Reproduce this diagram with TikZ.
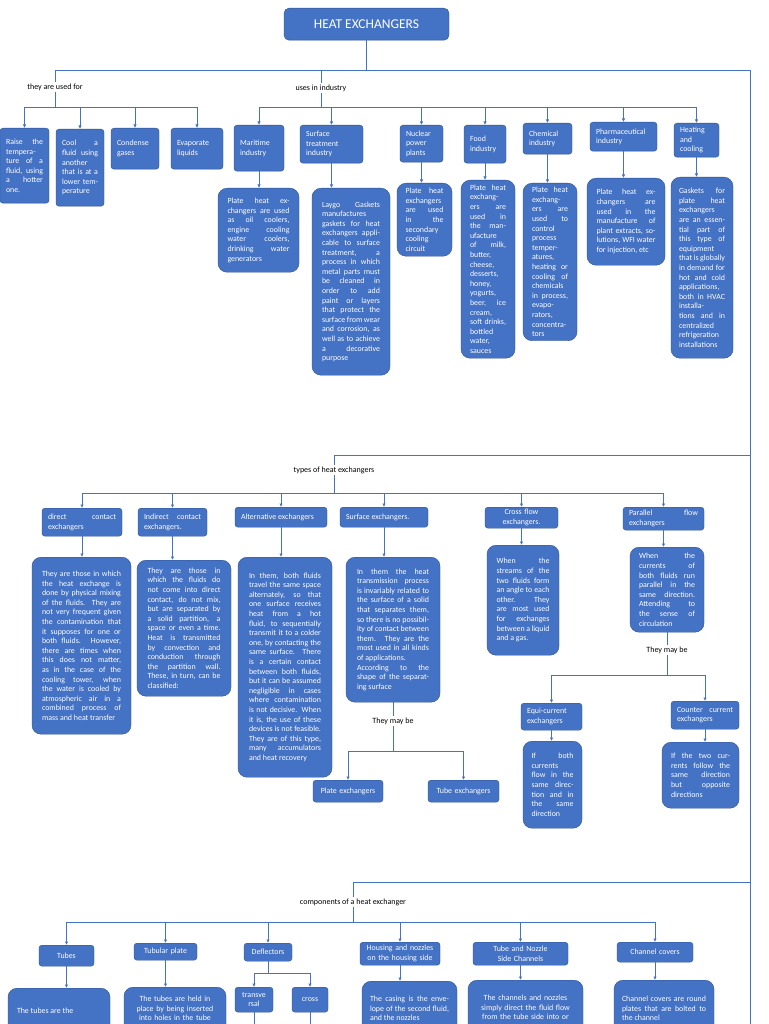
\documentclass[tikz,border=0pt]{standalone}
\usepackage{fontspec}
\setmainfont{Carlito}
\usetikzlibrary{arrows.meta}
\definecolor{hxblue}{HTML}{4472C4}
\definecolor{hxedge}{HTML}{2F528F}
\newcommand{\boxfont}{\fontsize{7.9}{9.6}\selectfont}
\newcommand{\hdfont}{\boxfont\hyphenpenalty=10000\relax}
\tolerance=9999
\emergencystretch=2em
\hbadness=10000
\hfuzz=4pt

\begin{document}
\begin{tikzpicture}[x=1pt,y=-1pt,
  >={Latex[length=3.5pt,width=3.5pt]},
  line/.style={draw=hxblue,line width=0.8pt},
  arr/.style={line,->},
  title/.style={draw=hxedge,fill=hxblue,text=white,rounded corners=5pt,anchor=north,
    minimum width=165pt,minimum height=32pt,font=\fontsize{13.5}{16}\selectfont},
  hd/.style={draw=hxedge,fill=hxblue,text=white,rounded corners=3pt,anchor=north,
    inner xsep=6pt,inner ysep=2pt,align=justify,font=\hdfont},
  ds/.style={hd,rounded corners=9pt,inner xsep=8pt,inner ysep=4pt,font=\boxfont},
  dtext/.style={text=white,anchor=north,inner sep=0pt,align=justify,font=\boxfont},
  lbl/.style={text=black,inner sep=1.5pt,font=\fontsize{8}{9.6}\selectfont}]

\fill[white] (0,0) rectangle (768,1024);
\useasboundingbox (0,0) rectangle (768,1024);

\node[title] (title) at (366.5,8) {HEAT EXCHANGERS};

\coordinate (busA) at (55,70);
\coordinate (busAR) at (750,70);
\coordinate (busB) at (0,107);
\coordinate (typesR) at (750,455);
\coordinate (busE) at (0,493);
\coordinate (busF) at (0,751);
\coordinate (busG) at (0,675);
\coordinate (compR) at (750,882);
\coordinate (busH) at (0,922);
\coordinate (busI) at (0,973);
\coordinate (bottom) at (0,1024);
\coordinate (trunkB) at (750,1024);

\node[lbl] (usedfor) at (55,87) {they are used for};
\node[lbl] (usesind) at (321,88) {uses in industry};
\node[lbl] (typeslbl) at (334,470) {types of heat exchangers};
\node[lbl] (maybe1) at (393,721) {They may be};
\node[lbl] (maybe2) at (667,650) {They may be};
\node[lbl] (complbl) at (353,902) {components of a heat exchanger};

% what they are used for
\node[hd,font=\boxfont,text width=37pt,minimum height=75pt] (raise) at (24.5,128) {Raise the temperature of a fluid, using a hotter one.};
\node[hd,font=\boxfont,text width=36pt,minimum height=77pt] (cool) at (80,129) {Cool a fluid using another that is at a lower temperature};
\node[hd,text width=36pt,minimum height=41pt] (condense) at (135,128) {Condense gases};
\node[hd,text width=40pt,minimum height=41pt] (evap) at (197,128) {Evaporate liquids};

% uses in industry
\node[hd,text width=38pt,minimum height=46pt] (maritime) at (259,125) {Maritime industry};
\node[hd,text width=51pt,minimum height=38pt] (surftreat) at (331.5,125) {Surface treatment industry};
\node[hd,text width=31pt,minimum height=37pt] (nuclear) at (421.5,125) {Nuclear power plants};
\node[hd,text width=30pt,minimum height=38pt] (food) at (485,125) {Food industry};
\node[hd,text width=37pt,minimum height=31pt] (chemical) at (547.5,123) {Chemical industry};
\node[hd,text width=55pt,minimum height=29pt] (pharma) at (623.5,122) {Pharmaceutical industry};
\node[hd,text width=33pt,minimum height=34pt] (heating) at (696.5,123) {Heating and cooling};

\node[ds,text width=62pt,minimum width=81pt,minimum height=84pt] (maritimeD) at (258.5,188) {Plate heat exchangers are used as oil coolers, engine cooling water coolers, drinking water generators};
\node[ds,text width=58pt,minimum width=78pt,minimum height=187pt] (surftreatD) at (351,188) {Laygo Gaskets manufactures gaskets for heat exchangers applicable to surface treatment, a process in which metal parts must be cleaned in order to add paint or layers that protect the surface from wear and corrosion, as well as to achieve a decorative purpose};
\node[ds,text width=38pt,minimum width=55pt,minimum height=73pt] (nuclearD) at (424.5,183) {Plate heat exchangers are used in the secondary cooling circuit};
\node[ds,text width=36pt,minimum width=54pt,minimum height=178pt] (foodD) at (488,180) {Plate heat exchangers are used in the manufacture of milk, butter, cheese, desserts, honey, yogurts, beer, ice cream, soft drinks, bottled water, sauces};
\node[ds,text width=36pt,minimum width=54pt,minimum height=157pt] (chemicalD) at (550,183) {Plate heat exchangers are used to control process temperatures, heating or cooling of chemicals in process, evaporators, concentrators};
\node[ds,text width=59pt,minimum width=78pt,minimum height=87pt] (pharmaD) at (626,178) {Plate heat exchangers are used in the manufacture of plant extracts, solutions, WFI water for injection, etc};
\node[ds,text width=46pt,minimum width=62pt,minimum height=181pt] (heatingD) at (702,177) {Gaskets for plate heat exchangers are an essential part of this type of equipment that is globally in demand for hot and cold applications, both in HVAC installations and in centralized refrigeration installations};

% types of heat exchangers
\node[hd,text width=68pt,minimum height=28pt] (direct) at (82,508) {direct contact exchangers};
\node[hd,text width=57pt,minimum height=28pt] (indirect) at (172.5,508) {Indirect contact exchangers.};
\node[hd,text width=80pt,minimum height=20pt] (altern) at (281,507) {Alternative exchangers};
\node[hd,text width=76pt,minimum height=20pt] (surfx) at (384,507) {Surface exchangers.};
\node[hd,text width=61pt,minimum height=21pt,align=center] (crossx) at (521.5,507) {Cross flow exchangers.};
\node[hd,text width=69pt,minimum height=23pt] (parx) at (663.5,507) {Parallel flow exchangers};

\node[ds,text width=79pt,minimum width=99pt,minimum height=177pt] (directD) at (81.5,557) {They are those in which the heat exchange is done by physical mixing of the fluids. They are not very frequent given the contamination that it supposes for one or both fluids. However, there are times when this does not matter, as in the case of the cooling tower, when the water is cooled by atmospheric air in a combined process of mass and heat transfer};
\node[ds,text width=73pt,minimum width=94pt,minimum height=136pt] (indirectD) at (184,560) {They are those in which the fluids do not come into direct contact, do not mix, but are separated by a solid partition, a space or even a time. Heat is transmitted by convection and conduction through the partition wall. These, in turn, can be classified:};
\node[ds,text width=72pt,minimum width=94pt,minimum height=220pt] (alternD) at (285,557) {In them, both fluids travel the same space alternately, so that one surface receives heat from a hot fluid, to sequentially transmit it to a colder one, by contacting the same surface. There is a certain contact between both fluids, but it can be assumed negligible in cases where contamination is not decisive. When it is, the use of these devices is not feasible. They are of this type, many accumulators and heat recovery};
\node[ds,text width=72pt,minimum width=94pt,minimum height=145pt] (surfxD) at (393,557) {In them the heat transmission process is invariably related to the surface of a solid that separates them, so there is no possibility of contact between them. They are the most used in all kinds of applications.\\ According to the shape of the separating surface};
\node[ds,text width=53pt,minimum width=72pt,minimum height=110pt] (crossxD) at (523,545) {When the streams of the two fluids form an angle to each other. They are most used for exchanges between a liquid and a gas.};
\node[ds,text width=56pt,minimum width=74pt,minimum height=85pt] (parxD) at (667,547) {When the currents of both fluids run parallel in the same direction. Attending to the sense of circulation};

\node[hd,text width=58pt,minimum height=22pt,align=center] (plate) at (348,780) {Plate exchangers};
\node[hd,text width=59pt,minimum height=22pt,align=center] (tube) at (463.5,780) {Tube exchangers};
\node[hd,text width=49pt,minimum height=27pt] (equi) at (551.5,703) {Equi-current exchangers};
\node[hd,text width=56pt,minimum height=28pt] (counter) at (705,701) {Counter current exchangers};
\node[ds,text width=42pt,minimum width=59pt,minimum height=87pt] (equiD) at (552.5,741) {If both currents flow in the same direction and in the same direction};
\node[ds,text width=59pt,minimum width=77pt,minimum height=66pt] (counterD) at (700.5,742) {If the two currents follow the same direction but opposite directions};

% components of a heat exchanger
\node[hd,text width=43pt,minimum height=21pt,align=center] (tubes) at (66.5,945) {Tubes};
\node[hd,text width=51pt,minimum height=17pt,align=center] (tubplate) at (165.5,943) {Tubular plate};
\node[hd,text width=36pt,minimum height=18pt,align=center] (deflectors) at (268,943) {Deflectors};
\node[hd,text width=68pt,minimum height=23pt,align=center] (housing) at (400,942) {Housing and nozzles on the housing side};
\node[hd,text width=83pt,minimum height=23pt,align=center] (channels) at (520.5,942) {Tube and Nozzle Side Channels};
\node[hd,text width=64pt,minimum height=20pt,align=center] (covers) at (655,942) {Channel covers};
\node[hd,inner xsep=4pt,text width=30pt,minimum height=25pt,align=center] (transv) at (254,987) {transve\discretionary{}{}{}rsal};
\node[hd,inner xsep=4pt,text width=28pt,minimum height=25pt,align=center] (crossc) at (310,987) {cross};

\node[ds,minimum width=102pt,minimum height=80pt] (tubesD) at (59,988) {};
\node[ds,minimum width=102pt,minimum height=80pt] (tubplateD) at (175,987) {};
\node[ds,minimum width=95pt,minimum height=80pt] (housingD) at (409.5,981) {};
\node[ds,minimum width=115pt,minimum height=80pt] (channelsD) at (525.5,980) {};
\node[ds,minimum width=100pt,minimum height=80pt] (coversD) at (664,980) {};
\node[dtext,text width=84pt] (tubesT) at (59,1008) {The tubes are the};
\node[dtext,text width=86pt,align=center] (tubplateT) at (175,996) {The tubes are held in place by being inserted into holes in the tube};
\node[dtext,text width=79pt] (housingT) at (409.5,996) {The casing is the envelope of the second fluid, and the nozzles};
\node[dtext,text width=99pt,align=center] (channelsT) at (525.5,995) {The channels and nozzles simply direct the fluid flow from the tube side into or};
\node[dtext,text width=84pt] (coversT) at (664,996) {Channel covers are round plates that are bolted to the channel};

% connectors
\draw[line] (title) -- (title |- busA);
\draw[line] (busA) -- (busAR) -- (trunkB);
\draw[line] (busA) -- (usedfor);
\draw[line] (usedfor) -- (usedfor |- busB);
\draw[line] (raise |- busB) -- (evap |- busB);
\foreach \n in {raise,cool,condense,evap}
  \draw[arr] (\n |- busB) -- (\n);

\draw[line] (usesind |- busA) -- (usesind);
\draw[line] (usesind) -- (usesind |- busB);
\draw[line] (maritime |- busB) -- (heating |- busB);
\foreach \n in {maritime,surftreat,nuclear,food,chemical,pharma,heating}{
  \draw[arr] (\n |- busB) -- (\n);
  \draw[arr] (\n) -- (\n |- \n D.north);
}

\draw[line] (typesR) -- (typeslbl |- typesR) -- (typeslbl);
\draw[line] (typeslbl) -- (typeslbl |- busE);
\draw[line] (direct |- busE) -- (parx |- busE);
\foreach \n in {direct,indirect,altern,surfx,crossx,parx}{
  \draw[arr] (\n |- busE) -- (\n);
  \draw[arr] (\n) -- (\n |- \n D.north);
}

\draw[line] (surfxD) -- (maybe1);
\draw[line] (maybe1) -- (maybe1 |- busF);
\draw[line] (plate |- busF) -- (tube |- busF);
\draw[arr] (plate |- busF) -- (plate);
\draw[arr] (tube |- busF) -- (tube);

\draw[line] (parxD) -- (maybe2);
\draw[line] (maybe2) -- (maybe2 |- busG);
\draw[line] (equi |- busG) -- (counter |- busG);
\draw[arr] (equi |- busG) -- (equi);
\draw[arr] (counter |- busG) -- (counter);
\draw[arr] (equi) -- (equi |- equiD.north);
\draw[arr] (counter) -- (counter |- counterD.north);

\draw[line] (compR) -- (complbl |- compR) -- (complbl);
\draw[line] (complbl) -- (complbl |- busH);
\draw[line] (tubes |- busH) -- (covers |- busH);
\foreach \n in {tubes,tubplate,deflectors,housing,channels,covers}
  \draw[arr] (\n |- busH) -- (\n);
\foreach \n in {tubes,tubplate,housing,channels,covers}
  \draw[arr] (\n) -- (\n |- \n D.north);
\draw[line] (deflectors) -- (deflectors |- busI);
\draw[line] (transv |- busI) -- (crossc |- busI);
\draw[arr] (transv |- busI) -- (transv);
\draw[arr] (crossc |- busI) -- (crossc);
\draw[line] (transv) -- (transv |- bottom);
\draw[line] (crossc) -- (crossc |- bottom);
\end{tikzpicture}
\end{document}
